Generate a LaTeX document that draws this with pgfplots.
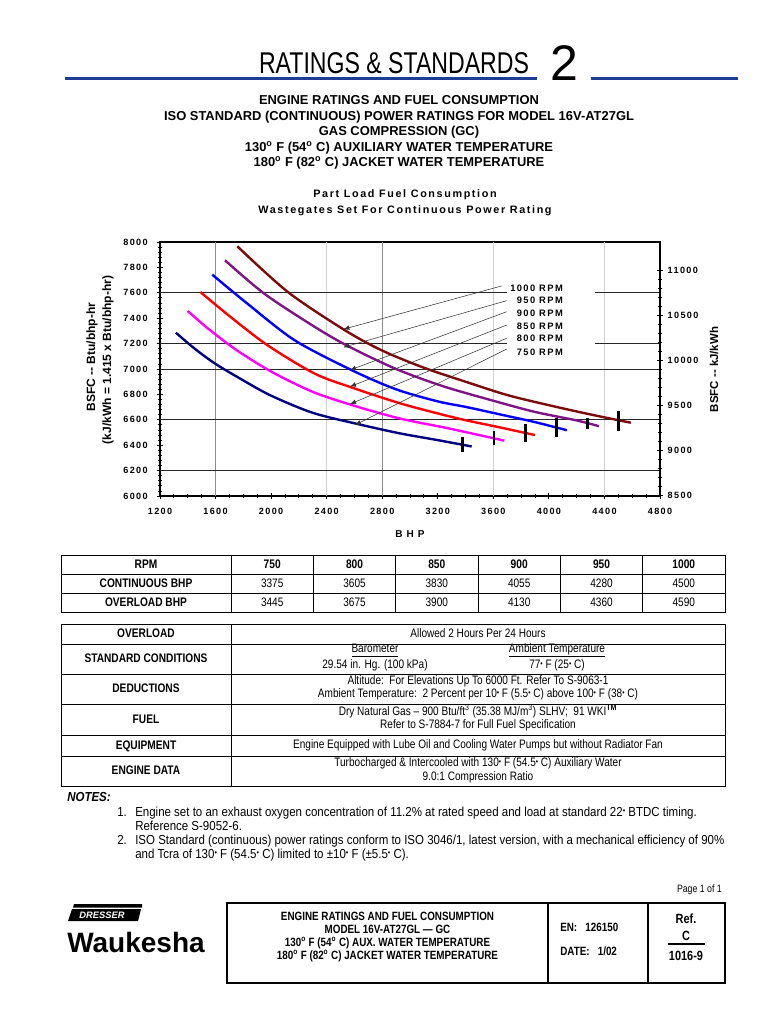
\documentclass[border=0pt]{standalone}
\usepackage{pgfplots}
\pgfplotsset{compat=1.18}
\usetikzlibrary{arrows.meta}
\usepackage{fontspec}
\setmainfont{Liberation Sans}
\newfontfamily\nar[FakeStretch=0.82]{Liberation Sans}
\newfontfamily\narb[FakeStretch=0.88]{Liberation Sans}
\newfontfamily\cond[FakeStretch=0.77]{Liberation Sans}
\newfontfamily\spc[LetterSpace=15]{Liberation Sans}
\newfontfamily\spcw[LetterSpace=40]{Liberation Sans}
\definecolor{hblue}{RGB}{30,62,150}
\definecolor{c1000}{RGB}{125,10,10}
\definecolor{c950}{RGB}{128,20,135}
\definecolor{c900}{RGB}{0,0,255}
\definecolor{c850}{RGB}{255,0,0}
\definecolor{c800}{RGB}{255,0,255}
\definecolor{c750}{RGB}{0,0,128}
\newcommand\fs[1]{\fontsize{#1}{#1}\selectfont}
\newcommand\dg{{\fontsize{6pt}{6pt}\selectfont\raisebox{0.55ex}{•}}}
\newcommand\og{\textsuperscript{o}}
\begin{document}
\begin{tikzpicture}
\begin{scope}[x=0.75pt,y=-0.75pt]
\fill[white] (0,0) rectangle (768,1024);
\useasboundingbox (0,0) rectangle (768,1024);
\tikzset{
 hd/.style={anchor=base,inner sep=0,font=\bfseries\fs{9.7pt}},
 tb/.style={anchor=base,inner sep=0,font=\nar\fs{9.2pt}},
 tbb/.style={anchor=base,inner sep=0,font=\nar\bfseries\fs{9.3pt}},
 nt/.style={anchor=base west,inner sep=0,font=\narb\fs{9.8pt}},
 ft/.style={anchor=base,inner sep=0,font=\nar\bfseries\fs{9pt}},
}
% header
\node[anchor=base,inner sep=0,font=\cond\fs{22.5pt}] at (394,74) {RATINGS \& STANDARDS};
\node[anchor=base,inner sep=0,font=\fs{37.5pt}] at (564,80) {2};
\draw[hblue,line width=2.25pt] (65,79)--(537,79) (591,79)--(738,79);
\node[hd] at (399,104.5) {ENGINE RATINGS AND FUEL CONSUMPTION};
\node[hd] at (399,120.5) {ISO STANDARD (CONTINUOUS) POWER RATINGS FOR MODEL 16V-AT27GL};
\node[hd] at (399,135.5) {GAS COMPRESSION (GC)};
\node[hd] at (399,151.5) {130\og{} F (54\og{} C) AUXILIARY WATER TEMPERATURE};
\node[hd] at (399,166.5) {180\og{} F (82\og{} C) JACKET WATER TEMPERATURE};
\node[anchor=base,inner sep=0,font=\spc\bfseries\fs{8.1pt}] at (405,197) {Part Load Fuel Consumption};
\node[anchor=base,inner sep=0,font=\spc\bfseries\fs{8.1pt}] at (405,213) {Wastegates Set For Continuous Power Rating};
% axis labels
\node[rotate=90,inner sep=0,font=\bfseries\fs{9pt}] at (92,357) {BSFC -{}- Btu/bhp-hr};
\node[rotate=90,inner sep=0,font=\bfseries\fs{9pt}] at (108,360) {(kJ/kWh = 1.415 x Btu/bhp-hr)};
\node[rotate=90,inner sep=0,font=\bfseries\fs{8.6pt}] at (714,369.5) {BSFC -{}- kJ/kWh};
\node[inner sep=0,font=\spcw\bfseries\fs{7.5pt}] at (410,534) {BHP};
% table 1
\draw[line width=0.7pt] (61,555) rectangle (725,612);
\draw[line width=0.7pt] (61,574)--(725,574) (61,593)--(725,593);
\foreach \x in {231,313.33,395.67,478,560.33,642.67} \draw[line width=0.7pt] (\x,555)--(\x,612);
\node[tbb] at (146,568) {RPM};
\node[tbb] at (146,587) {CONTINUOUS BHP};
\node[tbb] at (146,606) {OVERLOAD BHP};
\node[tbb] at (272.2,568) {750};
\node[tbb] at (354.5,568) {800};
\node[tbb] at (436.8,568) {850};
\node[tbb] at (519.2,568) {900};
\node[tbb] at (601.5,568) {950};
\node[tbb] at (683.8,568) {1000};
\node[tb] at (272.2,587) {3375};
\node[tb] at (354.5,587) {3605};
\node[tb] at (436.8,587) {3830};
\node[tb] at (519.2,587) {4055};
\node[tb] at (601.5,587) {4280};
\node[tb] at (683.8,587) {4500};
\node[tb] at (272.2,606) {3445};
\node[tb] at (354.5,606) {3675};
\node[tb] at (436.8,606) {3900};
\node[tb] at (519.2,606) {4130};
\node[tb] at (601.5,606) {4360};
\node[tb] at (683.8,606) {4590};
% table 2
\draw[line width=0.7pt] (61,624) rectangle (725,786);
\draw[line width=0.7pt] (61,644)--(725,644) (61,674)--(725,674) (61,704)--(725,704) (61,735)--(725,735) (61,756)--(725,756) (231,624)--(231,786);
\node[tbb] at (146,637.5) {OVERLOAD};
\node[tbb] at (146,662.5) {STANDARD CONDITIONS};
\node[tbb] at (146,692.5) {DEDUCTIONS};
\node[tbb] at (146,723) {FUEL};
\node[tbb] at (146,749) {EQUIPMENT};
\node[tbb] at (146,774.5) {ENGINE DATA};
\node[tb] at (478,637.5) {Allowed 2 Hours Per 24 Hours};
\node[tb] at (375,652) {Barometer};
\draw[line width=0.5pt] (352,656.5)--(398,656.5);
\node[tb] at (375,668.5) {29.54 in. Hg. (100 kPa)};
\node[tb] at (557,652) {Ambient Temperature};
\draw[line width=0.5pt] (509,656.5)--(605,656.5);
\node[tb] at (557,668.5) {77\dg{} F (25\dg{} C)};
\node[tb] at (478,684.5) {Altitude:\ \ For Elevations Up To 6000 Ft. Refer To S-9063-1};
\node[tb] at (478,697.5) {Ambient Temperature:\ \ 2 Percent per 10\dg{} F (5.5\dg{} C) above 100\dg{} F (38\dg{} C)};
\node[tb] at (478,715.5) {Dry Natural Gas – 900 Btu/ft\textsuperscript{3} (35.38 MJ/m\textsuperscript{3}) SLHV;\ \ 91 WKI\textsuperscript{\bfseries TM}};
\node[tb] at (478,728.5) {Refer to S-7884-7 for Full Fuel Specification};
\node[tb] at (478,748) {Engine Equipped with Lube Oil and Cooling Water Pumps but without Radiator Fan};
\node[tb] at (478,766.5) {Turbocharged \& Intercooled with 130\dg{} F (54.5\dg{} C) Auxiliary Water};
\node[tb] at (478,780.5) {9.0:1 Compression Ratio};
% notes
\node[nt,font=\narb\bfseries\itshape\fs{9.8pt}] at (67,801) {NOTES:};
\node[nt] at (117,816) {1.};
\node[nt] at (135,816) {Engine set to an exhaust oxygen concentration of 11.2\% at rated speed and load at standard 22\dg{} BTDC timing.};
\node[nt] at (135,830) {Reference S-9052-6.};
\node[nt] at (117,844) {2.};
\node[nt] at (135,844) {ISO Standard (continuous) power ratings conform to ISO 3046/1, latest version, with a mechanical efficiency of 90\%};
\node[nt] at (135,858) {and Tcra of 130\dg{} F (54.5\dg{} C) limited to ±10\dg{} F (±5.5\dg{} C).};
% footer
\node[anchor=base east,inner sep=0,font=\nar\fs{8pt}] at (722,892) {Page 1 of 1};
\draw[line width=1.5pt] (227,903) rectangle (725,983);
\draw[line width=1pt] (548,903)--(548,983) (648,903)--(648,983);
\node[ft] at (387.5,920.5) {ENGINE RATINGS AND FUEL CONSUMPTION};
\node[ft] at (387.5,933.5) {MODEL 16V-AT27GL — GC};
\node[ft] at (387.5,946.5) {130\og{} F (54\og{} C) AUX. WATER TEMPERATURE};
\node[ft] at (387.5,959.5) {180\og{} F (82\og{} C) JACKET WATER TEMPERATURE};
\node[ft,anchor=base west] at (560,931.5) {EN:\ \ \ 126150};
\node[ft,anchor=base west] at (560,955.5) {DATE:\ \ \ 1/02};
\node[ft,font=\nar\bfseries\fs{10pt}] at (686,923) {Ref.};
\node[ft,font=\nar\bfseries\fs{10pt}] at (686,940) {C};
\draw[line width=0.8pt] (668,944)--(705,944);
\node[ft,font=\nar\bfseries\fs{10pt}] at (686,960) {1016-9};
% logo
\fill[black] (74,904)--(142,904)--(142,907.5)--(73,907.5)--cycle;
\fill[black] (72,909)--(141,909)--(138,921)--(68,921)--cycle;
\node[inner sep=0,text=white,font=\bfseries\itshape\fs{7pt}] at (102,915.5) {DRESSER};
\node[anchor=base west,inner sep=0,font=\bfseries\fs{21pt}] at (67,952) {Waukesha};
\end{scope}

\begin{axis}[
  at={(120pt,-372pt)}, anchor=south west,
  width=375pt, height=190.5pt, scale only axis,
  xmin=1200, xmax=4800, ymin=6000, ymax=8000,
  xtick={1200,1600,...,4800}, ytick={6000,6200,...,8000},
  minor x tick num=3, minor y tick num=4,
  tick pos=left, tick align=center,
  major tick length=4.5pt, minor tick length=3pt,
  every tick/.style={black, line width=0.6pt},
  axis line style={-, black, line width=0.8pt},
  ticklabel style={font=\spc\bfseries\fs{6.8pt}},
  yticklabel style={xshift=-3.5pt},
  xticklabel style={yshift=-3pt},
  /pgf/number format/assume math mode=true,
  /pgf/number format/1000 sep={},
  scaled ticks=false,
]
% grid
\draw[black!45, line width=0.6pt] (axis cs:1600,6000)--(axis cs:1600,8000);
\draw[black!45, line width=0.6pt] (axis cs:2800,6000)--(axis cs:2800,8000);
\draw[black!18, line width=0.6pt] (axis cs:2400,6000)--(axis cs:2400,8000);
\draw[black!18, line width=0.6pt] (axis cs:3600,6000)--(axis cs:3600,8000);
\draw[black!18, line width=0.6pt] (axis cs:4400,6000)--(axis cs:4400,8000);
\draw[black!85, line width=0.6pt] (axis cs:1200,6200)--(axis cs:4800,6200);
\draw[black!85, line width=0.6pt] (axis cs:1200,6600)--(axis cs:4800,6600);
\draw[black!85, line width=0.6pt] (axis cs:1200,7000)--(axis cs:4800,7000);
\draw[black!85, line width=0.6pt] (axis cs:1200,7200)--(axis cs:4800,7200);
\draw[black!85, line width=0.6pt] (axis cs:1200,7600)--(axis cs:4800,7600);
\fill[white] (axis cs:3697,7690) rectangle (axis cs:4332,7080);
% curves
\addplot[c1000, line width=1.8pt, smooth] coordinates {(1757,7966)(2121,7606)(2533,7304)(2800,7145)(3100,7010)(3400,6900)(3700,6795)(4000,6715)(4300,6642)(4590,6577)};
\addplot[c950, line width=1.8pt, smooth] coordinates {(1668,7856)(1951,7593)(2315,7331)(2558,7178)(2900,7000)(3236,6865)(3600,6750)(3900,6662)(4200,6595)(4360,6550)};
\addplot[c900, line width=1.8pt, smooth] coordinates {(1576,7743)(1830,7514)(2170,7226)(2582,6990)(2900,6840)(3200,6745)(3408,6700)(3700,6630)(3888,6585)(4130,6518)};
\addplot[c850, line width=1.8pt, smooth] coordinates {(1491,7606)(1709,7409)(1976,7186)(2315,6963)(2606,6845)(2928,6730)(3236,6640)(3408,6595)(3648,6540)(3900,6480)};
\addplot[c800, line width=1.8pt, smooth] coordinates {(1399,7457)(1550,7315)(1750,7150)(2000,6980)(2300,6820)(2600,6710)(2928,6610)(3288,6530)(3679,6436)};
\addplot[c750, line width=1.8pt, smooth] coordinates {(1314,7286)(1450,7160)(1600,7040)(1800,6910)(2000,6790)(2300,6655)(2630,6565)(2928,6493)(3200,6440)(3444,6390)};
% continuous rating ticks
\addplot[only marks, mark=|, mark size=7.5pt, mark options={black, line width=2.2pt}] coordinates {(4500,6592)};
\addplot[only marks, mark=|, mark size=4pt, mark options={black, line width=2.2pt}] coordinates {(4280,6572)};
\addplot[only marks, mark=|, mark size=7.1pt, mark options={black, line width=2.2pt}] coordinates {(4055,6540)};
\addplot[only marks, mark=|, mark size=6.6pt, mark options={black, line width=2.2pt}] coordinates {(3830,6498)};
\addplot[only marks, mark=|, mark size=5.4pt, mark options={black, line width=2.2pt}] coordinates {(3605,6455)};
\addplot[only marks, mark=|, mark size=5.4pt, mark options={black, line width=2.2pt}] coordinates {(3375,6405)};
% leaders
\draw[black!80, line width=0.4pt, -{Latex[length=4.5pt,width=3.5pt]}] (axis cs:3660,7654)--(axis cs:2520,7313);
\draw[black!80, line width=0.4pt, -{Latex[length=4.5pt,width=3.5pt]}] (axis cs:3696,7538)--(axis cs:2520,7171);
\draw[black!80, line width=0.4pt, -{Latex[length=4.5pt,width=3.5pt]}] (axis cs:3696,7451)--(axis cs:2568,6992);
\draw[black!80, line width=0.4pt, -{Latex[length=4.5pt,width=3.5pt]}] (axis cs:3696,7346)--(axis cs:2568,6861);
\draw[black!80, line width=0.4pt, -{Latex[length=4.5pt,width=3.5pt]}] (axis cs:3696,7242)--(axis cs:2568,6724);
\draw[black!80, line width=0.4pt, -{Latex[length=4.5pt,width=3.5pt]}] (axis cs:3696,7157)--(axis cs:2604,6559);
\node[anchor=base east, inner sep=0, font=\spc\bfseries\fs{7pt}] at (axis cs:4102,7612) {1000 RPM};
\node[anchor=base east, inner sep=0, font=\spc\bfseries\fs{7pt}] at (axis cs:4102,7512) {950 RPM};
\node[anchor=base east, inner sep=0, font=\spc\bfseries\fs{7pt}] at (axis cs:4102,7415) {900 RPM};
\node[anchor=base east, inner sep=0, font=\spc\bfseries\fs{7pt}] at (axis cs:4102,7313) {850 RPM};
\node[anchor=base east, inner sep=0, font=\spc\bfseries\fs{7pt}] at (axis cs:4102,7213) {800 RPM};
\node[anchor=base east, inner sep=0, font=\spc\bfseries\fs{7pt}] at (axis cs:4102,7110) {750 RPM};
\end{axis}

\begin{axis}[
  at={(120pt,-372pt)}, anchor=south west,
  width=375pt, height=190.5pt, scale only axis,
  xmin=1200, xmax=4800, ymin=8490, ymax=11320,
  axis y line*=right, axis x line=none,
  ytick={8500,9000,...,11000}, minor y tick num=4,
  tick align=center,
  major tick length=4.5pt, minor tick length=3pt,
  every tick/.style={black, line width=0.6pt},
  axis line style={-, black, line width=0.8pt},
  ticklabel style={font=\spc\bfseries\fs{6.8pt}},
  /pgf/number format/assume math mode=true,
  /pgf/number format/1000 sep={},
  scaled ticks=false,
]
\addplot[draw=none] coordinates {(2000,9000)};
\end{axis}
\end{tikzpicture}
\end{document}
